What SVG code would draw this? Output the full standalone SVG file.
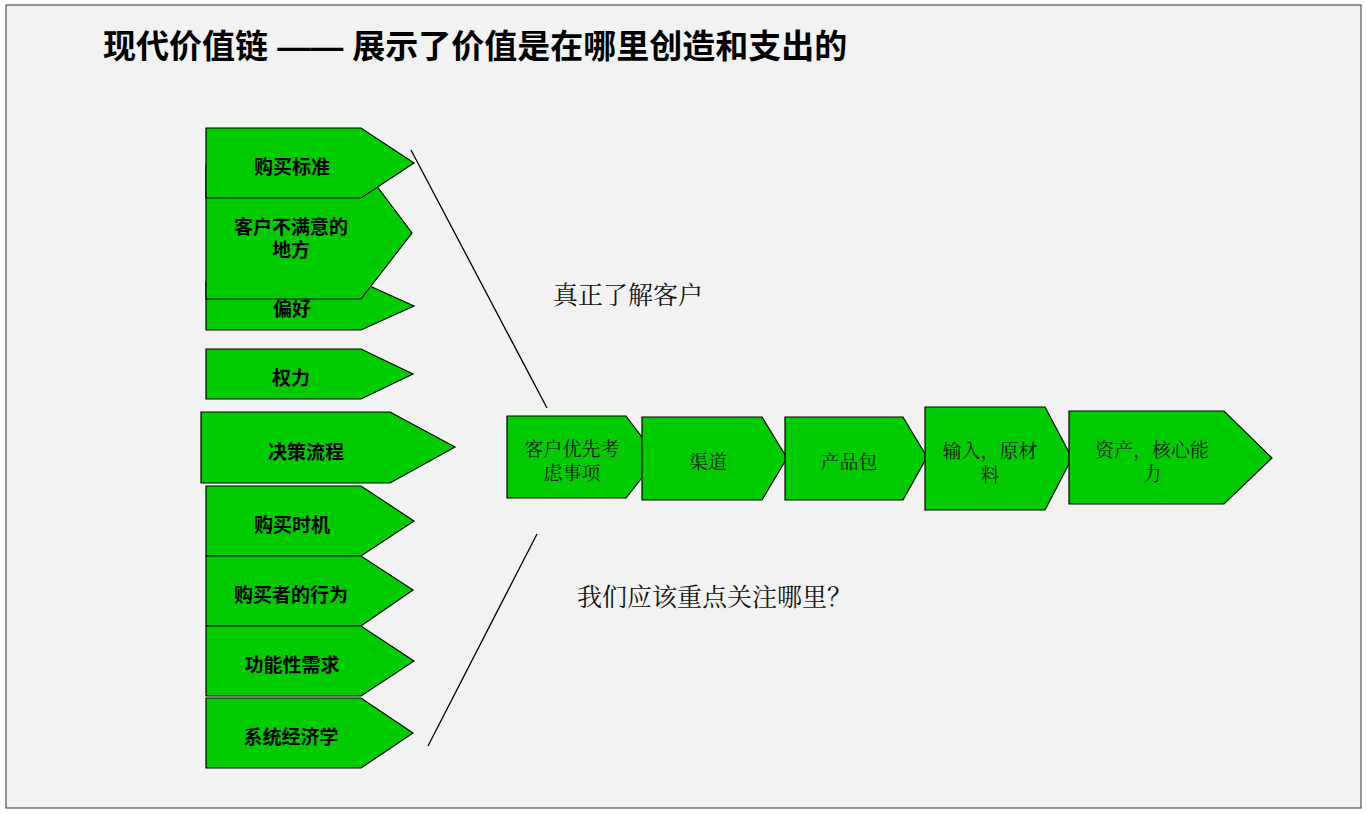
<svg xmlns="http://www.w3.org/2000/svg" width="1367" height="814" viewBox="0 0 1367 814">
<style>
.s{fill:#00cc00;stroke:#000;stroke-width:1.2}
.l{font-family:"Liberation Sans","Noto Sans CJK SC",sans-serif;font-weight:bold;font-size:19px;text-anchor:middle}
.c{font-family:"Liberation Serif","Noto Serif CJK SC","Noto Sans CJK SC",serif;font-size:19px;text-anchor:middle;fill:#111}
.t{font-family:"Liberation Serif","Noto Serif CJK SC","Noto Sans CJK SC",serif;font-size:25px;fill:#111}
.k{stroke:#000;stroke-width:1.3;fill:none}
</style>
<rect x="0" y="0" width="1367" height="814" fill="#fff"/>
<rect x="6" y="5" width="1355" height="803" fill="#f2f2f2" stroke="#333" stroke-width="1"/>
<text x="103" y="58" font-family="'Liberation Sans','Noto Sans CJK SC',sans-serif" font-size="33" font-weight="bold" fill="#000">现代价值链 —— 展示了价值是在哪里创造和支出的</text>
<g id="n3"><polygon class="s" points="206,282 361,282 414,306 361,330 206,330"/><text class="l" x="292" y="316">偏好</text></g>
<g id="n2"><polygon class="s" points="206,165 361,165 412,233 361,299 206,299"/><text class="l" x="291" y="234">客户不满意的</text><text class="l" x="291" y="257">地方</text></g>
<g id="n1"><polygon class="s" points="206,128 361,128 414,163 361,198 206,198"/><text class="l" x="292" y="174">购买标准</text></g>
<g id="n4"><polygon class="s" points="206,349 361,349 413,374 361,399 206,399"/><text class="l" x="291" y="385">权力</text></g>
<g id="n5"><polygon class="s" points="201,412 390,412 455,447 390,483 201,483"/><text class="l" x="306" y="459">决策流程</text></g>
<g id="n6"><polygon class="s" points="206,486 361,486 414,521 361,556 206,556"/><text class="l" x="292" y="532">购买时机</text></g>
<g id="n7"><polygon class="s" points="206,556 361,556 413,590 361,626 206,626"/><text class="l" x="291" y="602">购买者的行为</text></g>
<g id="n8"><polygon class="s" points="206,626 361,626 414,661 361,696 206,696"/><text class="l" x="292" y="672">功能性需求</text></g>
<g id="n9"><polygon class="s" points="206,698 361,698 413,733 361,768 206,768"/><text class="l" x="291" y="744">系统经济学</text></g>
<g id="a"><polygon class="s" points="507,416 626,416 644,440 644,475 626,498 507,498"/><text class="c" x="572" y="456">客户优先考</text><text class="c" x="572" y="480">虑事项</text></g>
<g id="b"><polygon class="s" points="642,417 762,417 787,458 762,500 642,500"/><text class="c" x="708" y="469">渠道</text></g>
<g id="c"><polygon class="s" points="785,417 903,417 927,457 903,500 785,500"/><text class="c" x="849" y="469">产品包</text></g>
<g id="d"><polygon class="s" points="925,407 1045,407 1072,458 1045,510 925,510"/><text class="c" x="990" y="458">输入，原材</text><text class="c" x="990" y="482">料</text></g>
<g id="e"><polygon class="s" points="1069,411 1224,411 1272,458 1224,504 1069,504"/><text class="c" x="1152" y="457">资产，核心能</text><text class="c" x="1152" y="481">力</text></g>
<g id="connectors"><line class="k" x1="411" y1="150" x2="547" y2="408"/><line class="k" x1="537" y1="534" x2="428" y2="746"/></g>
<text class="t" x="553" y="304">真正了解客户</text>
<text class="t" x="577" y="606">我们应该重点关注哪里？</text>
</svg>
